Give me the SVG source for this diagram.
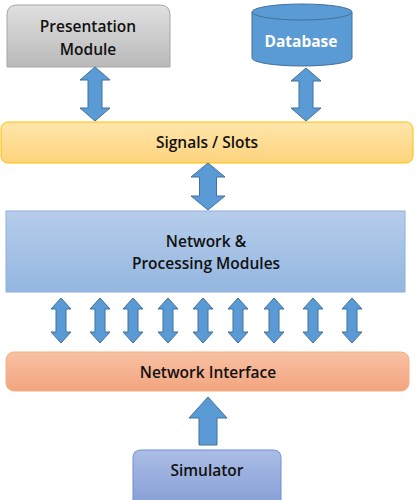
<svg xmlns="http://www.w3.org/2000/svg" width="418" height="500" viewBox="0 0 418 500">
<defs>
<linearGradient id="gGray" x1="0" y1="0" x2="0" y2="1"><stop offset="0" stop-color="#e0e0e0"/><stop offset="1" stop-color="#b9b9b9"/></linearGradient>
<linearGradient id="gYel" x1="0" y1="0" x2="0" y2="1"><stop offset="0" stop-color="#ffe6ad"/><stop offset="1" stop-color="#fed37c"/></linearGradient>
<linearGradient id="gBlue" x1="0" y1="0" x2="0" y2="1"><stop offset="0" stop-color="#b6cdea"/><stop offset="1" stop-color="#94b6e0"/></linearGradient>
<linearGradient id="gOr" x1="0" y1="0" x2="0" y2="1"><stop offset="0" stop-color="#f8c1a4"/><stop offset="1" stop-color="#f3a47f"/></linearGradient>
<linearGradient id="gSim" x1="0" y1="0" x2="0" y2="1"><stop offset="0" stop-color="#abbde6"/><stop offset="1" stop-color="#8aa1d7"/></linearGradient>
</defs>
<style>
.t{font-family:"Open Sans","Liberation Sans",Arial,sans-serif;font-size:15.5px;font-weight:600;fill:#111;text-anchor:middle}
.arr{fill:#5b9bd5;stroke:#41719c;stroke-width:1}
</style>
<g id="presentation">
<path d="M7,67 L7,15 Q7,5 17,5 L160,5 Q170,5 170,15 L170,67 Z" fill="url(#gGray)" stroke="#a6a6a6" stroke-width="1"/>
<text class="t" x="88" y="32">Presentation</text>
<text class="t" x="88" y="55">Module</text>
</g>
<g id="database">
<path d="M252,12 L252,58 A50,8 0 0 0 352,58 L352,12" fill="#5b9bd5" stroke="#41719c" stroke-width="1"/>
<ellipse cx="302" cy="12" rx="50" ry="8" fill="#5b9bd5" stroke="#41719c" stroke-width="1"/>
<text class="t" x="301" y="47" style="fill:#fff;font-weight:bold">Database</text>
</g>
<g id="signals">
<rect x="1" y="122" width="412" height="41" rx="7" fill="url(#gYel)" stroke="#ffc000" stroke-width="1"/>
<text class="t" x="207" y="148">Signals / Slots</text>
</g>
<g id="network-processing">
<rect x="6" y="211" width="399" height="81" fill="url(#gBlue)" stroke="#8db0dc" stroke-width="1"/>
<text class="t" x="206" y="247">Network &amp;</text>
<text class="t" x="206" y="269">Processing Modules</text>
</g>
<g id="network-interface">
<rect x="6" y="352" width="403" height="39" rx="8" fill="url(#gOr)" stroke="#f4b183" stroke-width="1"/>
<text class="t" x="208" y="378">Network Interface</text>
</g>
<g id="simulator">
<path d="M133,501 L133,458 Q133,450 141,450 L273,450 Q281,450 281,458 L281,501 Z" fill="url(#gSim)" stroke="#6f8fd0" stroke-width="1"/>
<text class="t" x="207" y="476">Simulator</text>
</g>
<g id="connectors">
<path class="arr" d="M95,67 L110,80 L102,80 L102,108 L110,108 L95,121 L80,108 L88,108 L88,80 L80,80 Z"/>
<path class="arr" d="M306,68 L321,81 L313,81 L313,108 L321,108 L306,121 L291,108 L299,108 L299,81 L291,81 Z"/>
<path class="arr" d="M208,163 L225,177 L216.5,177 L216.5,196 L225,196 L208,210 L191,196 L199.5,196 L199.5,177 L191,177 Z"/>
<path class="arr" d="M61,298 L71,309 L66,309 L66,332 L71,332 L61,343 L51,332 L56,332 L56,309 L51,309 Z"/>
<path class="arr" d="M100,298 L110,309 L105,309 L105,332 L110,332 L100,343 L90,332 L95,332 L95,309 L90,309 Z"/>
<path class="arr" d="M133,298 L143,309 L138,309 L138,332 L143,332 L133,343 L123,332 L128,332 L128,309 L123,309 Z"/>
<path class="arr" d="M168,298 L178,309 L173,309 L173,332 L178,332 L168,343 L158,332 L163,332 L163,309 L158,309 Z"/>
<path class="arr" d="M203,298 L213,309 L208,309 L208,332 L213,332 L203,343 L193,332 L198,332 L198,309 L193,309 Z"/>
<path class="arr" d="M238,298 L248,309 L243,309 L243,332 L248,332 L238,343 L228,332 L233,332 L233,309 L228,309 Z"/>
<path class="arr" d="M274,298 L284,309 L279,309 L279,332 L284,332 L274,343 L264,332 L269,332 L269,309 L264,309 Z"/>
<path class="arr" d="M313,298 L323,309 L318,309 L318,332 L323,332 L313,343 L303,332 L308,332 L308,309 L303,309 Z"/>
<path class="arr" d="M352,298 L362,309 L357,309 L357,332 L362,332 L352,343 L342,332 L347,332 L347,309 L342,309 Z"/>
<path class="arr" d="M208,397 L227,418 L217,418 L217,445 L199,445 L199,418 L189,418 Z"/>
</g>
</svg>
